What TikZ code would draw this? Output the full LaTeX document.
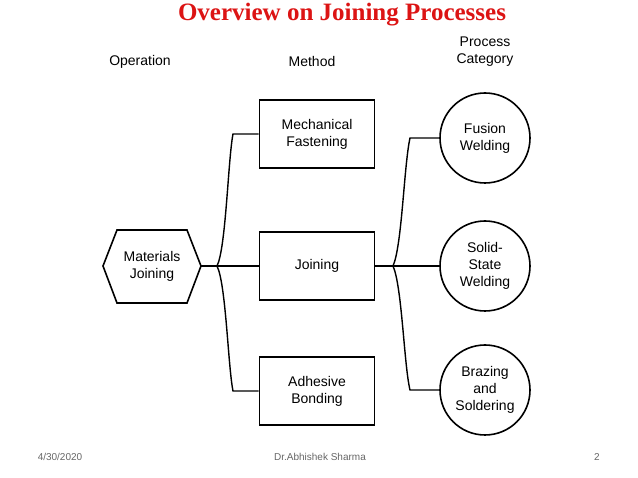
\documentclass[tikz,border=0pt]{standalone}
\usepackage{fontspec}
\setmainfont{Liberation Sans}
\newfontfamily\titlefont{Liberation Serif}
\definecolor{titlered}{RGB}{220,20,20}
\begin{document}
\begin{tikzpicture}[x=1pt,y=-1pt,
  lbl/.style={font=\fontsize{14}{17}\selectfont,align=center},
  boxn/.style={draw,line width=1.6pt,minimum width=115pt,minimum height=68pt,lbl},
  circn/.style={draw,line width=1.6pt,circle,minimum size=90pt,inner sep=0pt,lbl},
  con/.style={line width=1.4pt},
  foot/.style={font=\fontsize{10}{12}\selectfont,text=gray!80!black}]
\useasboundingbox (0,0) rectangle (638,478);
\node[font=\titlefont\bfseries\fontsize{25}{28}\selectfont,text=titlered,inner sep=1pt] (title) at (342,15) {Overview on Joining Processes};
\node[lbl] (op) at (140,62) {Operation};
\node[lbl] (me) at (312,62) {Method};
\node[lbl] (pc) at (485,52) {Process\\Category};
\draw[line width=1.6pt] (103,266) -- (117,230) -- (187,230) -- (201,266) -- (187,303) -- (117,303) -- cycle;
\node[lbl] (mj) at (152,266) {Materials\\Joining};
\coordinate (hr) at (201,266);
\node[boxn] (mf) at (317,134) {Mechanical\\Fastening};
\node[boxn] (jo) at (317,266) {Joining};
\node[boxn] (ab) at (317,391) {Adhesive\\Bonding};
\node[circn] (fw) at (485,138) {Fusion\\Welding};
\node[circn] (sw) at (485,266) {Solid-\\State\\Welding};
\node[circn] (bs) at (485,390) {Brazing\\and\\Soldering};
\draw[con] (hr) -- (jo.west);
\draw[con] (217,266) .. controls (226,248) and (228,160) .. (233,134) -- (mf.west);
\draw[con] (217,266) .. controls (226,284) and (228,366) .. (233,391) -- (ab.west);
\draw[con] (jo.east) -- (sw.west);
\draw[con] (393,266) .. controls (402,246) and (404,165) .. (410,138) -- (fw.west);
\draw[con] (393,266) .. controls (402,286) and (404,365) .. (410,390) -- (bs.west);
\node[foot] (d) at (60,457) {4/30/2020};
\node[foot] (a) at (320,457) {Dr.Abhishek Sharma};
\node[foot] (p) at (597,457) {2};
\end{tikzpicture}
\end{document}
